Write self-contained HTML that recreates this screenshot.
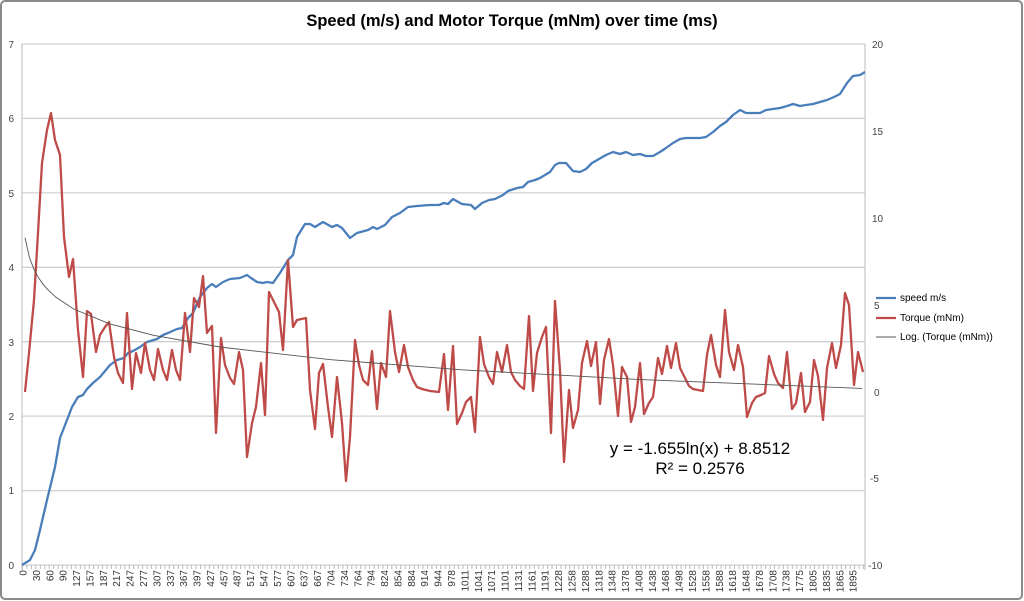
<!DOCTYPE html>
<html><head><meta charset="utf-8"><style>
html,body{margin:0;padding:0;background:#fff;}
svg{display:block;font-family:"Liberation Sans",Calibri,sans-serif;}
</style></head><body>
<svg width="1024" height="601" viewBox="0 0 1024 601" xmlns="http://www.w3.org/2000/svg">
<rect x="1" y="1" width="1021" height="598" rx="4" fill="#fff" stroke="#8a8a8a" stroke-width="2"/>
<text x="512" y="26" text-anchor="middle" font-size="16.5" font-weight="bold" fill="#000">Speed (m/s)  and Motor Torque (mNm) over time (ms)</text>
<g stroke="#d0d0d0" stroke-width="1.3">
<line x1="22" y1="44" x2="865" y2="44"/><line x1="22" y1="118.4" x2="865" y2="118.4"/>
<line x1="22" y1="192.9" x2="865" y2="192.9"/><line x1="22" y1="267.3" x2="865" y2="267.3"/>
<line x1="22" y1="341.7" x2="865" y2="341.7"/><line x1="22" y1="416.1" x2="865" y2="416.1"/>
<line x1="22" y1="490.6" x2="865" y2="490.6"/><line x1="22" y1="565" x2="865" y2="565"/>
</g>
<g stroke="#bbb" stroke-width="1"><line x1="22" y1="44" x2="22" y2="570"/><line x1="865" y1="44" x2="865" y2="570"/></g>
<line x1="22" y1="567" x2="865" y2="567" stroke="#bbb" stroke-width="4" stroke-dasharray="1 3.45"/>
<g font-size="10" fill="#444" text-anchor="end">
<text x="14" y="48">7</text><text x="14" y="122">6</text><text x="14" y="197">5</text><text x="14" y="271">4</text><text x="14" y="346">3</text><text x="14" y="420">2</text><text x="14" y="494">1</text><text x="14" y="569">0</text>
</g>
<g font-size="10" fill="#444">
<text x="872" y="48">20</text><text x="872" y="135">15</text><text x="872" y="222">10</text><text x="874" y="309">5</text><text x="874" y="396">0</text><text x="870" y="482">-5</text><text x="868" y="569">-10</text>
</g>
<g font-size="10" fill="#333" text-anchor="end">
<text transform="translate(26.5,570) rotate(-90)">0</text>
<text transform="translate(39.9,570) rotate(-90)">30</text>
<text transform="translate(53.3,570) rotate(-90)">60</text>
<text transform="translate(66.7,570) rotate(-90)">90</text>
<text transform="translate(80.1,570) rotate(-90)">127</text>
<text transform="translate(93.5,570) rotate(-90)">157</text>
<text transform="translate(106.8,570) rotate(-90)">187</text>
<text transform="translate(120.2,570) rotate(-90)">217</text>
<text transform="translate(133.6,570) rotate(-90)">247</text>
<text transform="translate(147,570) rotate(-90)">277</text>
<text transform="translate(160.4,570) rotate(-90)">307</text>
<text transform="translate(173.8,570) rotate(-90)">337</text>
<text transform="translate(187.2,570) rotate(-90)">367</text>
<text transform="translate(200.6,570) rotate(-90)">397</text>
<text transform="translate(214,570) rotate(-90)">427</text>
<text transform="translate(227.4,570) rotate(-90)">457</text>
<text transform="translate(240.7,570) rotate(-90)">487</text>
<text transform="translate(254.1,570) rotate(-90)">517</text>
<text transform="translate(267.5,570) rotate(-90)">547</text>
<text transform="translate(280.9,570) rotate(-90)">577</text>
<text transform="translate(294.3,570) rotate(-90)">607</text>
<text transform="translate(307.7,570) rotate(-90)">637</text>
<text transform="translate(321.1,570) rotate(-90)">667</text>
<text transform="translate(334.5,570) rotate(-90)">704</text>
<text transform="translate(347.9,570) rotate(-90)">734</text>
<text transform="translate(361.3,570) rotate(-90)">764</text>
<text transform="translate(374.6,570) rotate(-90)">794</text>
<text transform="translate(388,570) rotate(-90)">824</text>
<text transform="translate(401.4,570) rotate(-90)">854</text>
<text transform="translate(414.8,570) rotate(-90)">884</text>
<text transform="translate(428.2,570) rotate(-90)">914</text>
<text transform="translate(441.6,570) rotate(-90)">944</text>
<text transform="translate(455,570) rotate(-90)">978</text>
<text transform="translate(468.4,570) rotate(-90)">1011</text>
<text transform="translate(481.8,570) rotate(-90)">1041</text>
<text transform="translate(495.2,570) rotate(-90)">1071</text>
<text transform="translate(508.5,570) rotate(-90)">1101</text>
<text transform="translate(521.9,570) rotate(-90)">1131</text>
<text transform="translate(535.3,570) rotate(-90)">1161</text>
<text transform="translate(548.7,570) rotate(-90)">1191</text>
<text transform="translate(562.1,570) rotate(-90)">1228</text>
<text transform="translate(575.5,570) rotate(-90)">1258</text>
<text transform="translate(588.9,570) rotate(-90)">1288</text>
<text transform="translate(602.3,570) rotate(-90)">1318</text>
<text transform="translate(615.7,570) rotate(-90)">1348</text>
<text transform="translate(629.1,570) rotate(-90)">1378</text>
<text transform="translate(642.4,570) rotate(-90)">1408</text>
<text transform="translate(655.8,570) rotate(-90)">1438</text>
<text transform="translate(669.2,570) rotate(-90)">1468</text>
<text transform="translate(682.6,570) rotate(-90)">1498</text>
<text transform="translate(696,570) rotate(-90)">1528</text>
<text transform="translate(709.4,570) rotate(-90)">1558</text>
<text transform="translate(722.8,570) rotate(-90)">1588</text>
<text transform="translate(736.2,570) rotate(-90)">1618</text>
<text transform="translate(749.6,570) rotate(-90)">1648</text>
<text transform="translate(763,570) rotate(-90)">1678</text>
<text transform="translate(776.3,570) rotate(-90)">1708</text>
<text transform="translate(789.7,570) rotate(-90)">1738</text>
<text transform="translate(803.1,570) rotate(-90)">1775</text>
<text transform="translate(816.5,570) rotate(-90)">1805</text>
<text transform="translate(829.9,570) rotate(-90)">1835</text>
<text transform="translate(843.3,570) rotate(-90)">1865</text>
<text transform="translate(856.7,570) rotate(-90)">1895</text>
</g>
<polyline fill="none" stroke="#4a7ebb" stroke-width="2.3" stroke-linejoin="round" points="22,565 30,560 35,550 40,530 47,500 55,467 60,438 67,420 72,407 78,397 83,395 87,389 93,383 100,377 110,365 117,360 124,358 128,353 133,351 140,347 147,342 157,339 163,335 168,333 177,329 182,328 188,318 193,313 200,297 207,288 212,284 216,287 223,282 230,279 240,278 247,275 251,278 257,282 263,283 267,282 273,283 280,273 288,260 293,255 297,237 305,224 310,224 315,227 323,222 332,227 337,225 342,228 350,238 357,233 368,230 373,227 377,229 385,225 392,217 400,213 408,207 417,206 430,205 439,205 444,203 448,204 453,199 462,204 471,205 475,209 482,203 489,200 495,199 503,195 508,191 517,188 523,187 528,182 535,180 540,178 550,172 555,165 559,163 566,163 573,171 580,172 586,169 592,163 599,159 606,155 613,152 620,154 626,152 633,155 640,154 646,156 653,156 660,152 666,148 673,143 680,139 686,138 693,138 700,138 706,137 713,132 720,126 726,122 733,115 740,110 746,113 753,113 760,113 766,110 773,109 780,108 787,106 793,104 800,106 806,105 813,104 820,102 827,100 834,97 840,94 847,83 853,76 860,75 865,72"/>
<polyline fill="none" stroke="#be4b48" stroke-width="2.3" stroke-linejoin="round" points="25,392 29,353 34,300 38,233 42,163 47,130 51,113 55,140 60,155 64,237 69,277 73,259 78,330 83,377 87,311 91,314 96,352 100,335 105,327 109,322 114,357 118,373 123,383 127,313 132,389 136,353 141,373 145,343 150,370 154,380 158,349 163,370 167,380 172,350 176,370 180,380 185,313 190,352 194,298 199,307 203,276 207,333 212,326 216,433 221,338 225,365 230,378 234,384 239,352 243,370 247,457 252,423 256,407 261,363 265,415 269,292 274,302 279,312 283,350 288,260 293,327 297,320 306,318 310,390 315,429 319,373 323,364 328,407 332,437 337,377 342,423 346,481 350,437 355,340 359,365 363,380 368,385 372,351 377,409 381,363 386,377 390,311 395,352 399,372 404,345 408,367 413,380 417,387 422,389 430,391 439,392 444,354 448,410 453,346 457,424 462,413 466,402 471,397 475,432 480,337 484,364 489,377 493,384 497,352 502,372 507,345 511,372 515,380 520,386 524,389 529,316 533,391 537,353 542,337 546,327 551,433 555,301 560,370 564,462 569,390 573,428 578,410 582,363 587,341 591,366 596,342 600,404 604,360 609,339 613,365 618,416 622,367 627,377 631,422 635,407 640,363 644,414 649,403 653,397 658,358 662,374 667,346 671,368 676,343 680,368 685,378 689,386 693,389 703,391 707,355 711,335 716,365 720,377 725,310 729,352 734,370 738,345 743,367 747,417 752,403 756,397 761,395 765,393 769,356 774,374 778,383 783,388 787,352 792,409 796,403 801,373 805,412 810,402 814,360 818,376 823,420 827,368 832,343 836,368 841,345 845,293 849,305 854,385 858,352 863,372"/>
<polyline fill="none" stroke="#555" stroke-width="0.9" points="25,237.6 29.4,257.4 33.9,269.2 38.3,277.4 42.7,283.8 47.2,289.1 56,297.3 73.7,309 109.2,323.7 153.5,335.3 219.9,347 330.7,359.7 463.6,369.9 640.8,379.6 862.3,388.4"/>
<g font-size="10" fill="#000">
<line x1="876" y1="298" x2="896" y2="298" stroke="#4a7ebb" stroke-width="2.3"/><text x="900" y="301">speed m/s</text>
<line x1="876" y1="318" x2="896" y2="318" stroke="#be4b48" stroke-width="2.3"/><text x="900" y="321">Torque (mNm)</text>
<line x1="876" y1="337" x2="896" y2="337" stroke="#555" stroke-width="0.9"/><text x="900" y="340">Log. (Torque (mNm))</text>
</g>
<g font-size="17" fill="#000" text-anchor="middle">
<text x="700" y="454">y = -1.655ln(x) + 8.8512</text>
<text x="700" y="474">R² = 0.2576</text>
</g>
</svg>
</body></html>
